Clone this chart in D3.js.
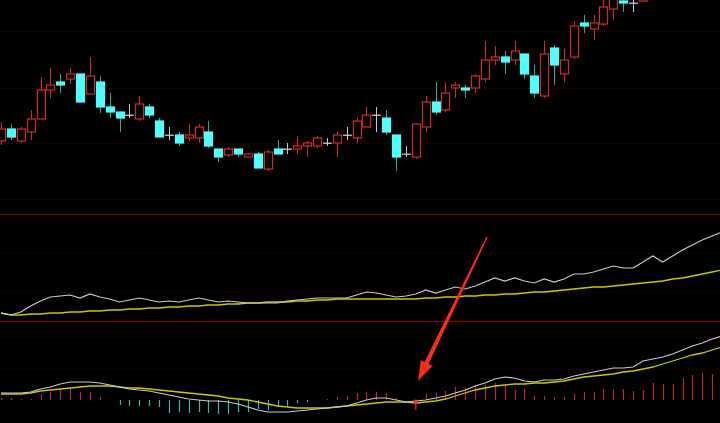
<!DOCTYPE html>
<html><head><meta charset="utf-8">
<script src="https://cdn.jsdelivr.net/npm/d3@7"></script>
<style>body{margin:0;background:#000;overflow:hidden}</style>
</head><body>
<svg id="chart" width="720" height="423"></svg>
<script>
// candle prices (open, close, high, low)
var open  = [109,121,109,118,131,160,168,171,176,156,168,143,138,135,131,143,129,115,115,112,112,118,101,95,101,93,96,81,101,101,101,104,104,107,107,115,112,123,135,132,115,96,93,123,148,140,162,162,162,171,190,193,190,196,174,154,202,176,193,227,221,226,241,249,247,249,252,256,260,262,266,270,272,276]
var close = [121,113,121,131,160,165,165,176,148,174,143,138,132,135,146,135,113,115,107,115,123,104,93,101,96,96,82,98,96,101,104,107,112,107,115,115,129,135,135,118,93,96,126,148,138,157,165,160,174,190,193,188,199,176,157,196,185,190,224,224,227,243,252,247,247,251,256,260,258,266,270,268,276,280]
var high  = [128,126,123,140,173,182,176,182,176,193,174,157,138,146,154,146,132,123,118,126,126,129,101,103,101,97,98,100,110,107,114,109,114,112,118,123,132,143,143,140,115,104,126,154,168,168,168,165,176,209,204,199,209,196,185,209,205,201,229,235,235,252,256,254,254,252,260,264,262,270,274,272,280,284]
var low   = [105,110,107,110,131,152,157,166,148,156,137,132,118,132,129,132,113,110,104,109,107,102,88,93,93,93,82,79,96,96,96,93,102,104,93,110,107,123,118,115,79,93,91,118,135,138,152,152,157,168,185,176,185,171,152,152,165,168,191,217,210,224,230,238,238,248,250,254,254,260,264,264,268,272]

// middle panel lines
var midWhite  = [17,15,18,24,29,33,34,35,32,36,33,31,28,30,32,30,28,29,28,30,32,30,28,29,28,27,27,27,27,29,30,31,32,32,32,32,35,38,37,35,33,34,36,40,37,40,43,41,44,48,52,49,52,49,47,51,48,51,56,56,58,61,64,62,62,68,74,68,74,80,85,90,94,98]
var midYellow = [17,15,15,16,16,17,17,18,18,19,19,20,20,21,21,22,22,23,23,24,24,25,25,26,26,27,27,28,28,28,29,29,30,30,31,31,31,31,31,31,31,31,31,32,32,33,33,34,34,35,35,36,36,37,38,38,39,40,41,42,43,43,44,45,46,47,48,49,51,52,54,56,58,60]

// macd panel
var dif  = [7,7,7,8,11,13,16,18,18,18,17,15,13,11,10,9,7,5,3,1,0,-1,-1,-2,-4,-7,-10,-12,-12,-12,-11,-10,-9,-8,-7,-6,-3,0,2,2,0,-2,-1,0,2,4,7,10,14,17,21,23,22,19,18,20,20,21,24,26,28,30,32,32,33,39,41,43,46,50,54,57,61,64]
var dea  = [6,6,6,7,9,10,11,12,13,14,14,14,13,12,12,11,10,9,8,7,6,5,4,2,1,0,-2,-4,-6,-7,-8,-8,-8,-8,-7,-6,-5,-4,-3,-2,-2,-2,-3,-2,-1,1,4,7,10,12,14,15,16,16,17,17,18,19,21,23,24,25,26,28,29,31,33,36,39,42,45,47,50,53]
var macd = [2,2,1,1,6,8,10,11,8,8,3,0,-5,-6,-6,-6,-7,-13,-12,-13,-12,-13,-14,-14,-12,-12,-9,-10,-7,-6,-3,-2,0,1,3,4,7,8,8,7,2,0,-1,6,7,9,13,12,14,15,17,15,10,11,4,4,3,3,6,8,8,11,11,11,9,10,17,16,16,22,25,27,26,28]

var idx = d3.range(open.length)
var svg = d3.select("#chart")

var x = d3.scaleLinear().domain([0, 65]).range([1, 643])
var yPrice = d3.scaleLinear().domain([0, 250]).range([250, 0])
var yMid = d3.scaleLinear().domain([0, 100]).range([330, 230])
var yMacd = d3.scaleLinear().domain([0, 60]).range([400, 340])

// grid
var dotted = [31, 88, 143, 199, 253, 292, 337, 369]
svg.selectAll(".grid").data(dotted).enter().append("line")
  .attr("x1", 0).attr("x2", 720)
  .attr("y1", function(d) { return d + 0.5 }).attr("y2", function(d) { return d + 0.5 })
  .attr("stroke", "#6a0000").attr("stroke-dasharray", "1,3")
svg.selectAll(".sep").data([214.5, 321.5]).enter().append("line")
  .attr("x1", 0).attr("x2", 720).attr("y1", function(d) { return d }).attr("y2", function(d) { return d })
  .attr("stroke", "#8c0000")

svg.append("clipPath").attr("id", "pc")
  .append("rect").attr("x", 0).attr("y", 0).attr("width", 720).attr("height", 212)
var priceG = svg.append("g").attr("clip-path", "url(#pc)")

function col(i) {
  if (close[i] > open[i]) return "#d42828"
  if (close[i] < open[i]) return "#54fcfc"
  return "#c8c8c8"
}
priceG.selectAll(".wick").data(idx).enter().append("line")
  .attr("x1", function(i) { return Math.round(x(i)) + 0.5 })
  .attr("x2", function(i) { return Math.round(x(i)) + 0.5 })
  .attr("y1", function(i) { return yPrice(high[i]) })
  .attr("y2", function(i) { return yPrice(low[i]) })
  .attr("stroke", function(i) { return close[i] < open[i] ? "#2aa8a8" : col(i) })
priceG.selectAll(".body").data(idx).enter().append("rect")
  .attr("x", function(i) { return Math.round(x(i)) - 3.5 })
  .attr("width", 8)
  .attr("y", function(i) { return yPrice(Math.max(open[i], close[i])) })
  .attr("height", function(i) { return Math.max(0.5, Math.abs(yPrice(open[i]) - yPrice(close[i]))) })
  .attr("fill", function(i) { return close[i] > open[i] ? "#000" : col(i) })
  .attr("stroke", function(i) { return col(i) })
  .attr("stroke-width", function(i) { return close[i] === open[i] ? 0.8 : 1.2 })

// middle panel
function lineOf(arr, ys) {
  return d3.line().x(function(d, i) { return x(i) }).y(function(d) { return ys(d) })(arr)
}
svg.append("path").attr("d", lineOf(midYellow, yMid)).attr("fill", "none").attr("stroke", "#c8c800").attr("stroke-width", 1.3)
svg.append("path").attr("d", lineOf(midWhite, yMid)).attr("fill", "none").attr("stroke", "#c8c8c8").attr("stroke-width", 1.2)

// macd bars
svg.selectAll(".mb").data(idx).enter().append("line")
  .attr("x1", function(i) { return Math.round(x(i)) + 0.5 })
  .attr("x2", function(i) { return Math.round(x(i)) + 0.5 })
  .attr("y1", yMacd(0))
  .attr("y2", function(i) { return yMacd(macd[i]) })
  .attr("stroke", function(i) { return macd[i] >= 0 ? "#c02828" : "#3cb4b4" })
  .attr("stroke-width", 1.2)
svg.append("path").attr("d", lineOf(dea, yMacd)).attr("fill", "none").attr("stroke", "#c8c800").attr("stroke-width", 1.3)
svg.append("path").attr("d", lineOf(dif, yMacd)).attr("fill", "none").attr("stroke", "#c8c8c8").attr("stroke-width", 1.2)

// annotation arrow, tapered shaft
svg.append("path")
  .attr("d", "M487.6,237.3 L428.6,364 L432.5,365.8 L418,381 L420.8,360.2 L424.6,362 L486.4,236.7 Z")
  .attr("fill", "#ff2a1a")
var cx = x(42)
svg.append("line").attr("x1", cx).attr("x2", cx).attr("y1", 410).attr("y2", 402)
  .attr("stroke", "#ff3030").attr("stroke-width", 1.2)
svg.append("path").attr("d", "M" + (cx - 3) + ",404 L" + cx + ",399 L" + (cx + 3) + ",404 Z").attr("fill", "#ff3030")
</script>
</body></html>
